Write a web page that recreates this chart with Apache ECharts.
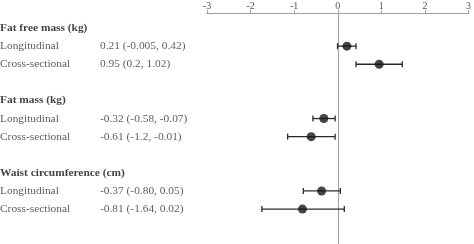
<!DOCTYPE html>
<html>
<head>
<meta charset="utf-8">
<script src="https://cdn.jsdelivr.net/npm/echarts@6/dist/echarts.min.js"></script>
<style>html,body{margin:0;padding:0;background:#fff}#c{width:474px;height:244px}</style>
</head>
<body>
<div id="c"></div>
<script>
// ---- data ----
const groupTitles = ['Fat free mass (kg)', 'Fat mass (kg)', 'Waist circumference (cm)'];
const groupRows = [0, 4, 8];
const itemLabels = ['Longitudinal', 'Cross-sectional', 'Longitudinal', 'Cross-sectional', 'Longitudinal', 'Cross-sectional'];
const itemRows = [1, 2, 5, 6, 9, 10];
const estimateTexts = ['0.21 (-0.005, 0.42)', '0.95 (0.2, 1.02)', '-0.32 (-0.58, -0.07)', '-0.61 (-1.2, -0.01)', '-0.37 (-0.80, 0.05)', '-0.81 (-1.64, 0.02)'];
const estimates = [0.21, 0.95, -0.32, -0.61, -0.37, -0.81];
const lowerCI = [-0.005, 0.42, -0.57, -1.15, -0.79, -1.74];
const upperCI = [0.42, 1.48, -0.06, -0.06, 0.06, 0.15];

const serif = '"Liberation Serif", "DejaVu Serif", serif';
const yMin = -0.83, yMax = 11.93;

const chart = echarts.init(document.getElementById('c'), null, {renderer: 'canvas'});
chart.setOption({
  animation: false,
  backgroundColor: '#fff',
  grid: [
    {left: 207, right: 3, top: 13, bottom: 0},
    {left: 0, width: 200, top: 13, bottom: 0}
  ],
  xAxis: [
    {
      type: 'value', gridIndex: 0, position: 'top', min: -3, max: 3, interval: 1,
      axisLine: {show: true, onZero: false, lineStyle: {color: '#a0a0a0', width: 1}},
      axisTick: {show: true, inside: false, length: 3, lineStyle: {color: '#a0a0a0'}},
      axisLabel: {show: true, margin: 2, fontFamily: serif, fontSize: 10, color: '#555'},
      splitLine: {show: false}
    },
    {type: 'value', gridIndex: 1, min: 0, max: 200, show: false}
  ],
  yAxis: [
    {
      type: 'value', gridIndex: 0, inverse: true, min: yMin, max: yMax,
      axisLine: {show: true, onZero: true, lineStyle: {color: '#9aa0a4', width: 1}},
      axisTick: {show: false}, axisLabel: {show: false}, splitLine: {show: false}
    },
    {type: 'value', gridIndex: 1, inverse: true, min: yMin, max: yMax, show: false}
  ],
  series: [
    {
      type: 'custom', xAxisIndex: 0, yAxisIndex: 0, clip: false,
      data: estimates.map((v, i) => [lowerCI[i], upperCI[i], itemRows[i]]),
      renderItem: function (params, api) {
        const p1 = api.coord([api.value(0), api.value(2)]);
        const p2 = api.coord([api.value(1), api.value(2)]);
        const h = 3;
        const st = {stroke: '#2a2a2a', lineWidth: 1.3};
        return {
          type: 'group',
          children: [
            {type: 'line', shape: {x1: p1[0], y1: p1[1], x2: p2[0], y2: p2[1]}, style: st},
            {type: 'line', shape: {x1: p1[0], y1: p1[1] - h, x2: p1[0], y2: p1[1] + h}, style: st},
            {type: 'line', shape: {x1: p2[0], y1: p2[1] - h, x2: p2[0], y2: p2[1] + h}, style: st}
          ]
        };
      }
    },
    {
      type: 'scatter', xAxisIndex: 0, yAxisIndex: 0, symbol: 'circle', symbolSize: 9,
      itemStyle: {color: '#151515'},
      data: estimates.map((v, i) => [v, itemRows[i]])
    },
    {
      type: 'scatter', xAxisIndex: 1, yAxisIndex: 1, symbolSize: 0,
      data: groupTitles.map((t, i) => ({value: [0, groupRows[i]], name: t})),
      label: {show: true, position: 'right', distance: 0, formatter: p => p.name,
        fontFamily: serif, fontWeight: 'bold', fontSize: 11.4, color: '#111'}
    },
    {
      type: 'scatter', xAxisIndex: 1, yAxisIndex: 1, symbolSize: 0,
      data: itemLabels.map((t, i) => ({value: [0, itemRows[i]], name: t})),
      label: {show: true, position: 'right', distance: 0, formatter: p => p.name,
        fontFamily: serif, fontSize: 11.4, color: '#333'}
    },
    {
      type: 'scatter', xAxisIndex: 1, yAxisIndex: 1, symbolSize: 0,
      data: estimateTexts.map((t, i) => ({value: [100, itemRows[i]], name: t})),
      label: {show: true, position: 'right', distance: 0, formatter: p => p.name,
        fontFamily: serif, fontSize: 11.4, color: '#333'}
    }
  ]
});
</script>
</body>
</html>
